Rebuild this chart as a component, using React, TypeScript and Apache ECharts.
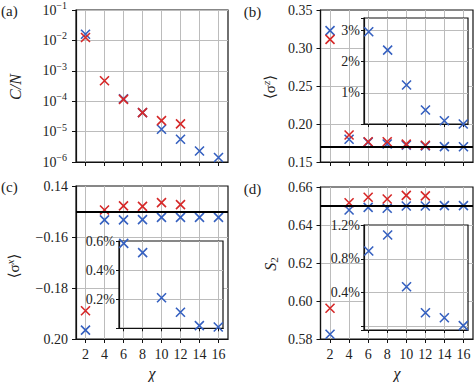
import React, { useEffect, useRef } from 'react';
import * as echarts from 'echarts';

// ---------- data ----------
const chi = [2, 4, 6, 8, 10, 12, 14, 16];
const xDomain = ['1', '2', '3', '4', '5', '6', '7', '8', '9', '10', '11', '12', '13', '14', '15', '16', '17'];
const insetDomain = ['5.5', '6', '6.5', '7', '7.5', '8', '8.5', '9', '9.5', '10', '10.5', '11', '11.5', '12', '12.5', '13', '13.5', '14', '14.5', '15', '15.5', '16', '16.5'];

// (a) C/N (log)
const aBlue = [1.6e-2, null, 1.2e-4, 4.2e-5, 1.2e-5, 5.6e-6, 2.3e-6, 1.4e-6];
const aRed = [1.25e-2, 4.7e-4, 1.15e-4, 4.2e-5, 2.3e-5, 1.8e-5, null, null];

// (b) <sigma^z>
const bBlue = [0.3228, 0.1799, 0.1762, 0.1737, 0.1722, 0.1712, 0.1702, 0.1701];
const bRed = [0.3114, 0.1855, 0.1767, 0.1767, 0.1735, 0.172, null, null];
const bRef = 0.17;
const insetChi = [6, 8, 10, 12, 14, 16];
const bInset = [2.96, 2.37, 1.25, 0.45, 0.106, 0.0];

// (c) <sigma^x>
const cBlue = [-0.1965, -0.1533, -0.1533, -0.1532, -0.1523, -0.1523, -0.1523, -0.1523];
const cRed = [-0.1889, -0.1494, -0.1478, -0.148, -0.1465, -0.1473, null, null];
const cRef = -0.152;
const cInset = [0.584, 0.52, 0.21, 0.11, 0.018, 0.009];
const cTickVals = [-0.2, -0.18, -0.16, -0.14];
const cTickText = ['0.20', '\u22120.18', '\u22120.16', '0.14'];

// (d) S2
const dBlue = [0.5825, 0.6479, 0.6493, 0.6488, 0.65, 0.65, 0.6502, 0.6502];
const dRed = [0.5962, 0.6517, 0.6546, 0.6537, 0.6556, 0.6553, null, null];
const dRef = 0.65;
const dInset = [0.893, 1.082, 0.471, 0.164, 0.105, 0.011];

// ---------- style ----------
const FONT = "'Liberation Serif', 'DejaVu Serif', serif";
const FS = 14;
const RED = '#d62828';
const BLUE = '#3560c0';
const INK = '#111';
const TXT = '#222';
const GRIDC = '#bcbcbc';
const CROSS = 'path://M0,0L10,10M10,0L0,10';

const isEven = (_i: number, v: string) => {
  const n = Number(v);
  return Number.isInteger(n) && n % 2 === 0;
};

const pts = (xs: number[], ys: (number | null)[]) =>
  xs.map((x, i) => [String(x), ys[i]]).filter((p) => p[1] != null);

function mainX(gridIndex: number, showLabels: boolean) {
  return {
    type: 'category',
    gridIndex,
    data: xDomain,
    boundaryGap: false,
    axisLine: { show: true, onZero: false, lineStyle: { color: INK, width: 1.2 } },
    axisTick: { show: true, interval: isEven, length: 4, lineStyle: { color: INK, width: 1 } },
    axisLabel: { show: showLabels, interval: isEven, margin: 8, fontFamily: FONT, fontSize: FS, color: TXT },
    splitLine: { show: true, interval: isEven, lineStyle: { color: GRIDC, width: 1 } },
  };
}

function mainY(gridIndex: number, extra: any) {
  return {
    type: 'value',
    gridIndex,
    axisLine: { show: true, onZero: false, lineStyle: { color: INK, width: 1.2 } },
    axisTick: { show: true, length: 4, lineStyle: { color: INK, width: 1 } },
    axisLabel: { margin: 8, fontFamily: FONT, fontSize: FS, color: TXT },
    splitLine: { show: true, showMinLine: false, showMaxLine: false, lineStyle: { color: GRIDC, width: 1 } },
    ...extra,
  };
}

function insetX(gridIndex: number) {
  return {
    type: 'category',
    gridIndex,
    data: insetDomain,
    boundaryGap: false,
    z: 6,
    axisLine: { show: true, onZero: false, lineStyle: { color: INK, width: 1.2 } },
    axisTick: { show: true, interval: isEven, length: 3, lineStyle: { color: INK, width: 1 } },
    axisLabel: { show: false },
    splitLine: { show: true, interval: isEven, lineStyle: { color: GRIDC, width: 1 } },
  };
}

function insetY(gridIndex: number, extra: any, fmt: (v: number) => string) {
  return {
    type: 'value',
    gridIndex,
    z: 6,
    axisLine: { show: true, onZero: false, lineStyle: { color: INK, width: 1.2 } },
    axisTick: { show: true, length: 3, lineStyle: { color: INK, width: 1 } },
    axisLabel: { margin: 4, fontFamily: FONT, fontSize: FS, color: TXT, formatter: fmt },
    splitLine: { show: true, showMinLine: false, showMaxLine: false, lineStyle: { color: GRIDC, width: 1 } },
    ...extra,
  };
}

function sc(name: string, xi: number, data: any[], color: string, z = 2, extra: any = {}) {
  return {
    type: 'scatter',
    name,
    xAxisIndex: xi,
    yAxisIndex: xi,
    data,
    symbol: CROSS,
    symbolSize: 9,
    z,
    itemStyle: { color: 'transparent', borderColor: color, borderWidth: 1.6, opacity: 1 },
    emphasis: { disabled: true },
    ...extra,
  };
}

function refLine(v: number) {
  return {
    markLine: {
      silent: true,
      symbol: 'none',
      label: { show: false },
      lineStyle: { color: '#000', width: 2, type: 'solid' },
      data: [{ yAxis: v }],
    },
  };
}

const mainGrid = (left: number, top: number, width: number, height: number) => ({
  left, top, width, height,
  show: true,
  borderColor: INK,
  borderWidth: 1.2,
  backgroundColor: 'transparent',
  containLabel: false,
  outerBoundsMode: 'none',
});
const insetGrid = (left: number, top: number, width: number, height: number) => ({
  left, top, width, height,
  show: true,
  z: 5,
  borderColor: INK,
  borderWidth: 1.2,
  backgroundColor: '#fff',
  containLabel: false,
  outerBoundsMode: 'none',
});

const txt = (text: string, x: number, y: number, size: number, opts: any = {}) => ({
  type: 'text',
  x,
  y,
  z: 20,
  rotation: opts.rotation || 0,
  style: {
    text,
    fontFamily: FONT,
    fontSize: size,
    fontStyle: opts.italic ? 'italic' : 'normal',
    fill: TXT,
    align: opts.align || 'center',
    verticalAlign: 'middle',
    rich: opts.rich,
  },
});

export default function App() {
  const ref = useRef<HTMLDivElement>(null);
  useEffect(() => {
    document.body.style.margin = '0';
    const chart = echarts.init(ref.current!, undefined, { renderer: 'svg' });
    const supRich = {
      s: { fontFamily: FONT, fontSize: 11, color: TXT, fontStyle: 'italic', padding: [0, 0, 8, 0] },
      i: { fontFamily: FONT, fontSize: 16, fontStyle: 'italic', color: TXT },
      sub: { fontFamily: FONT, fontSize: 11, color: TXT, padding: [7, 0, 0, 0] },
    };
    const option: any = {
      animation: false,
      backgroundColor: '#fff',
      grid: [
        mainGrid(76, 10, 152, 152),
        mainGrid(320.5, 10, 152.5, 152),
        mainGrid(76, 186, 152, 153),
        mainGrid(320.5, 187, 152.5, 152),
        insetGrid(364, 18, 104, 106),
        insetGrid(119, 241, 104, 87.3),
        insetGrid(364, 225, 104, 105),
      ],
      xAxis: [
        mainX(0, false),
        mainX(1, false),
        mainX(2, true),
        mainX(3, true),
        insetX(4),
        insetX(5),
        insetX(6),
      ],
      yAxis: [
        {
          type: 'log',
          logBase: 10,
          gridIndex: 0,
          min: 1e-6,
          max: 1e-1,
          axisLine: { show: true, onZero: false, lineStyle: { color: INK, width: 1.2 } },
          axisTick: { show: true, length: 4, lineStyle: { color: INK, width: 1 } },
          minorTick: { show: false },
          axisLabel: {
            margin: 9,
            color: TXT,
            formatter: (v: number) => `{b|10}{s|\u2212${-Math.round(Math.log10(v))}}`,
            rich: {
              b: { fontFamily: FONT, fontSize: FS, color: TXT },
              s: { fontFamily: FONT, fontSize: 10, color: TXT, padding: [0, 0, 9, 0] },
            },
          },
          splitLine: { show: true, showMinLine: false, showMaxLine: false, lineStyle: { color: GRIDC, width: 1 } },
        },
        mainY(1, { min: 0.15, max: 0.35, interval: 0.05, axisLabel: { margin: 8, fontFamily: FONT, fontSize: FS, color: TXT, formatter: (v: number) => v.toFixed(2) } }),
        mainY(2, {
          min: -0.2,
          max: -0.14,
          interval: 0.02,
          axisLabel: {
            margin: 8,
            fontFamily: FONT,
            fontSize: FS,
            color: TXT,
            formatter: (v: number) => {
              let best = 0;
              cTickVals.forEach((t, i) => {
                if (Math.abs(t - v) < Math.abs(cTickVals[best] - v)) best = i;
              });
              return cTickText[best];
            },
          },
        }),
        mainY(3, { min: 0.58, max: 0.66, interval: 0.02, axisLabel: { margin: 8, fontFamily: FONT, fontSize: FS, color: TXT, formatter: (v: number) => v.toFixed(2) } }),
        insetY(4, { min: 0, max: 3.4, interval: 1 }, (v: number) =>
          v > 0.5 && Math.abs(v - Math.round(v)) < 1e-6 ? `${Math.round(v)}%` : ''
        ),
        insetY(5, { min: 0, max: 0.6, interval: 0.2 }, (v: number) => (v > 0.1 ? `${v.toFixed(1)}%` : '')),
        insetY(6, { min: -0.04, max: 1.2, splitNumber: 3, minInterval: 0.4, maxInterval: 0.4 }, (v: number) =>
          v > 0.1 && Math.abs(v / 0.4 - Math.round(v / 0.4)) < 1e-6 ? `${v.toFixed(1)}%` : ''
        ),
      ],
      series: [
        sc('aBlue', 0, pts(chi, aBlue), BLUE),
        sc('aRed', 0, pts(chi, aRed), RED),
        sc('bBlue', 1, pts(chi, bBlue), BLUE, 2, refLine(bRef)),
        sc('bRed', 1, pts(chi, bRed), RED),
        sc('cBlue', 2, pts(chi, cBlue), BLUE, 2, refLine(cRef)),
        sc('cRed', 2, pts(chi, cRed), RED),
        sc('dBlue', 3, pts(chi, dBlue), BLUE, 2, refLine(dRef)),
        sc('dRed', 3, pts(chi, dRed), RED),
        sc('bInset', 4, pts(insetChi, bInset), BLUE, 7),
        sc('cInset', 5, pts(insetChi, cInset), BLUE, 7),
        sc('dInset', 6, pts(insetChi, dInset), BLUE, 7),
      ],
      graphic: {
        elements: [
          txt('(a)', 1, 11, 15, { align: 'left' }),
          txt('(b)', 252.5, 12, 15),
          txt('(c)', 1, 187, 15, { align: 'left' }),
          txt('(d)', 252.5, 189, 15),
          txt('C/N', 15, 87, 16, { italic: true, rotation: Math.PI / 2 }),
          txt('\u27e8\u03c3{s|z}\u27e9', 269.5, 87, 15, { rotation: Math.PI / 2, rich: supRich }),
          txt('\u27e8\u03c3{s|x}\u27e9', 14, 266, 15, { rotation: Math.PI / 2, rich: supRich }),
          txt('{i|S}{sub|2}', 270, 264, 16, { rotation: Math.PI / 2, rich: supRich }),
          txt('\u03c7', 152, 373, 16, { italic: true }),
          txt('\u03c7', 397, 373, 16, { italic: true }),
        ],
      },
    };
    chart.setOption(option);
    return () => chart.dispose();
  }, []);
  return <div ref={ref} style={{ position: 'absolute', left: 0, top: 0, width: 474, height: 382 }} />;
}
